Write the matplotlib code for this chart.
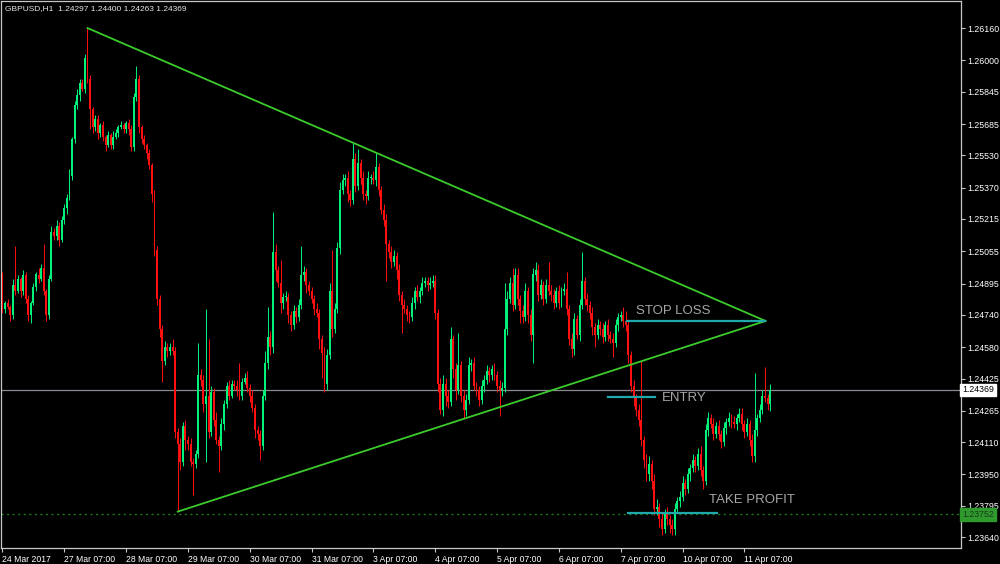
import numpy as np
import matplotlib
matplotlib.use("Agg")
import matplotlib.pyplot as plt

# GBPUSD H1, one close per hour (open = previous close)
open0 = 1.2493
closes = [
    # 24 Mar
    1.2477, 1.2480, 1.2478, 1.2474, 1.2489, 1.2486, 1.2492, 1.2486, 1.2494, 1.2482, 1.2474, 1.2480,
    1.2488, 1.2494, 1.2492, 1.2497, 1.2486, 1.2474, 1.2492, 1.2515, 1.2513, 1.2518, 1.2511, 1.2521,
    # 27 Mar
    1.2527, 1.2532, 1.2543, 1.2561, 1.2578, 1.2583, 1.2589, 1.2586, 1.2601, 1.2591, 1.2576, 1.2567,
    1.2571, 1.2564, 1.2568, 1.2562, 1.2558, 1.2563, 1.2558, 1.2562, 1.2564, 1.2567, 1.2568, 1.2566,
    # 28 Mar
    1.2569, 1.2566, 1.2557, 1.2582, 1.2591, 1.2567, 1.2561, 1.2558, 1.2554, 1.2548, 1.2534, 1.2506,
    1.2482, 1.2467, 1.2451, 1.2458, 1.2456, 1.2458, 1.2456, 1.2416, 1.2410, 1.2401, 1.2419, 1.2412,
    # 29 Mar
    1.2410, 1.2401, 1.2400, 1.2405, 1.2444, 1.2442, 1.2430, 1.2434, 1.2416, 1.2436, 1.2422, 1.2412,
    1.2409, 1.2420, 1.2430, 1.2439, 1.2434, 1.2440, 1.2439, 1.2437, 1.2434, 1.2441, 1.2443, 1.2438,
    # 30 Mar
    1.2434, 1.2428, 1.2417, 1.2415, 1.2409, 1.2434, 1.2450, 1.2463, 1.2458, 1.2505, 1.2496, 1.2490,
    1.2480, 1.2483, 1.2483, 1.2474, 1.2469, 1.2476, 1.2473, 1.2479, 1.2494, 1.2495, 1.2489, 1.2486,
    # 31 Mar
    1.2482, 1.2477, 1.2475, 1.2462, 1.2455, 1.2440, 1.2454, 1.2486, 1.2467, 1.2477, 1.2507, 1.2536,
    1.2541, 1.2542, 1.2534, 1.2531, 1.2551, 1.2538, 1.2549, 1.2542, 1.2534, 1.2533, 1.2542, 1.2542,
    # 3 Apr
    1.2541, 1.2547, 1.2536, 1.2526, 1.2521, 1.2509, 1.2505, 1.2500, 1.2503, 1.2496, 1.2484, 1.2479,
    1.2477, 1.2474, 1.2473, 1.2480, 1.2486, 1.2483, 1.2486, 1.2490, 1.2491, 1.2489, 1.2490, 1.2491,
    # 4 Apr
    1.2475, 1.2440, 1.2427, 1.2440, 1.2434, 1.2431, 1.2462, 1.2447, 1.2437, 1.2449, 1.2434, 1.2427,
    1.2432, 1.2449, 1.2450, 1.2439, 1.2437, 1.2432, 1.2439, 1.2442, 1.2446, 1.2444, 1.2447, 1.2444,
    # 5 Apr
    1.2439, 1.2437, 1.2438, 1.2467, 1.2482, 1.2490, 1.2479, 1.2494, 1.2482, 1.2476, 1.2473, 1.2486,
    1.2474, 1.2464, 1.2494, 1.2496, 1.2484, 1.2489, 1.2482, 1.2489, 1.2486, 1.2484, 1.2480, 1.2486,
    # 6 Apr
    1.2480, 1.2486, 1.2487, 1.2477, 1.2462, 1.2457, 1.2472, 1.2464, 1.2479, 1.2491, 1.2482, 1.2479,
    1.2475, 1.2468, 1.2464, 1.2469, 1.2467, 1.2463, 1.2469, 1.2464, 1.2462, 1.2460, 1.2469, 1.2473,
    # 7 Apr
    1.2474, 1.2471, 1.2469, 1.2454, 1.2439, 1.2433, 1.2427, 1.2422, 1.2412, 1.2402, 1.2395, 1.2400,
    1.2392, 1.2378, 1.2379, 1.2373, 1.2368, 1.2376, 1.2373, 1.2370, 1.2368, 1.2378, 1.2382, 1.2384,
    # 10 Apr
    1.2391, 1.2388, 1.2395, 1.2398, 1.2402, 1.2399, 1.2405, 1.2397, 1.2392, 1.2417, 1.2423, 1.2420,
    1.2415, 1.2419, 1.2415, 1.2411, 1.2418, 1.2421, 1.2423, 1.2421, 1.2420, 1.2423, 1.2425, 1.2420,
    # 11 Apr
    1.2416, 1.2420, 1.2412, 1.2404, 1.2417, 1.2423, 1.2427, 1.2434, 1.2433, 1.24297, 1.24369,
]

# wick lengths above / below the body, in pips
wick_up = [
    2, 1, 2, 1, 3, 19, 2, 1, 2, 1, 2, 1, 2, 1, 3, 2, 12, 1, 2, 3, 2, 3, 2, 2,
    2, 2, 3, 1, 2, 3, 2, 2, 2, 15, 2, 1, 2, 2, 1, 2, 1, 2, 1, 3, 2, 1, 2, 1,
    1, 2, 2, 2, 6, 2, 1, 2, 1, 2, 1, 2, 2, 2, 2, 3, 2, 2, 4, 2, 2, 3, 2, 3,
    2, 3, 2, 2, 16, 3, 2, 43, 28, 3, 2, 4, 2, 3, 2, 2, 3, 2, 2, 3, 13, 2, 2, 3,
    2, 3, 2, 2, 2, 3, 6, 15, 3, 20, 4, 2, 11, 2, 3, 2, 2, 3, 2, 3, 14, 3, 2, 2,
    2, 2, 3, 2, 2, 3, 3, 4, 20, 3, 3, 4, 3, 2, 3, 2, 8, 3, 7, 2, 3, 2, 3, 2,
    3, 7, 2, 2, 3, 3, 2, 3, 3, 2, 3, 2, 3, 2, 2, 3, 2, 3, 2, 3, 2, 2, 3, 3,
    3, 2, 3, 4, 3, 3, 6, 2, 3, 16, 2, 3, 3, 4, 2, 3, 2, 2, 3, 2, 3, 2, 2, 3,
    2, 3, 3, 23, 4, 3, 7, 3, 3, 2, 3, 4, 2, 3, 3, 4, 3, 3, 2, 3, 11, 3, 3, 2,
    3, 2, 3, 8, 2, 3, 3, 2, 3, 14, 2, 3, 2, 3, 2, 3, 2, 3, 2, 3, 2, 3, 3, 2,
    2, 4, 5, 3, 2, 3, 2, 3, 29, 2, 3, 4, 2, 3, 4, 2, 3, 2, 3, 2, 3, 3, 2, 3,
    3, 2, 3, 2, 3, 2, 3, 4, 2, 3, 3, 2, 3, 2, 3, 2, 3, 2, 3, 2, 3, 2, 3, 3,
    2, 3, 2, 3, 28, 2, 3, 3, 14, 2, 3.1,
]
wick_dn = [
    2, 2, 1, 3, 2, 2, 1, 3, 2, 2, 3, 4, 1, 2, 2, 1, 2, 3, 2, 1, 2, 2, 3, 1,
    2, 3, 1, 2, 2, 2, 3, 1, 2, 2, 10, 3, 2, 3, 2, 2, 3, 1, 2, 2, 1, 2, 1, 2,
    2, 3, 2, 2, 2, 3, 2, 2, 3, 2, 4, 3, 3, 4, 10, 2, 3, 2, 2, 3, 33, 4, 2, 5,
    3, 2, 15, 2, 2, 3, 4, 29, 3, 2, 3, 2, 13, 2, 3, 2, 2, 1, 2, 3, 2, 2, 1, 2,
    3, 2, 4, 3, 7, 2, 2, 3, 4, 3, 5, 2, 5, 3, 2, 4, 3, 2, 3, 2, 2, 3, 4, 2,
    2, 3, 2, 5, 12, 4, 3, 2, 4, 2, 2, 3, 2, 3, 4, 3, 2, 3, 2, 3, 3, 4, 2, 3,
    2, 3, 3, 2, 3, 18, 3, 3, 2, 4, 3, 14, 2, 3, 3, 2, 3, 2, 3, 2, 2, 3, 2, 2,
    3, 4, 2, 3, 5, 3, 2, 4, 5, 2, 3, 4, 3, 2, 3, 2, 3, 3, 2, 3, 2, 3, 2, 2,
    3, 13, 3, 2, 3, 2, 3, 2, 3, 6, 3, 2, 4, 3, 14, 3, 3, 2, 3, 2, 2, 3, 3, 2,
    3, 2, 2, 3, 3, 4, 3, 2, 3, 2, 3, 3, 3, 4, 6, 2, 3, 3, 2, 3, 2, 7, 2, 3,
    2, 3, 3, 4, 3, 4, 3, 3, 3, 4, 3, 3, 4, 3, 3, 4, 3, 2, 3, 4, 3, 3, 2, 3,
    2, 3, 2, 3, 2, 3, 2, 3, 4, 2, 3, 2, 3, 2, 3, 3, 2, 3, 2, 3, 2, 3, 2, 3,
    3, 2, 3, 3, 3, 3, 2, 2, 2, 3, 3.4,
]

day_labels = ["24 Mar 2017", "27 Mar 07:00", "28 Mar 07:00", "29 Mar 07:00", "30 Mar 07:00",
              "31 Mar 07:00", "3 Apr 07:00", "4 Apr 07:00", "5 Apr 07:00", "6 Apr 07:00",
              "7 Apr 07:00", "10 Apr 07:00", "11 Apr 07:00"]
price_ticks = [1.26160, 1.26000, 1.25845, 1.25685, 1.25530, 1.25370, 1.25215, 1.25055,
               1.24895, 1.24740, 1.24580, 1.24425, 1.24265, 1.24110, 1.23950, 1.23795, 1.23640]

# trend lines: (bar, price) end points
upper_line = [(33, 1.2616), (296.2, 1.2471)]
lower_line = [(68, 1.23766), (296.2, 1.2471)]
# trade levels: name, price, bar from, bar to, label bar, label price
levels = [
    ("STOP LOSS", 1.24711, 242.6, 296.2, 246.1, 1.24761),
    ("ENTRY", 1.24335, 235.2, 253.5, 255.8, 1.24330),
    ("TAKE PROFIT", 1.23761, 243.0, 277.2, 274.1, 1.23825),
]
tp_price = 1.23752

closes = np.array(closes)
opens = np.concatenate([[open0], closes[:-1]])
highs = np.maximum(opens, closes) + np.array(wick_up) / 1e4
lows = np.minimum(opens, closes) - np.array(wick_dn) / 1e4
n = len(closes)
idx = np.arange(n)
bull = closes >= opens

plt.rcParams["font.family"] = ["Liberation Sans", "DejaVu Sans"]
fig = plt.figure(figsize=(10, 5.64), dpi=100, facecolor="black")
ax = fig.add_axes([0.001, 1 - 548 / 564, 0.960, 547 / 564], facecolor="black")

up_col, dn_col = "#00F27A", "#FF1010"
cols = np.where(bull, up_col, dn_col)
ax.vlines(idx, lows, highs, colors=cols, linewidth=0.7, zorder=3)
body_h = np.maximum(np.abs(closes - opens), 0.00002)
ax.bar(idx, body_h, bottom=np.minimum(opens, closes), width=0.75,
       color=cols, linewidth=0, zorder=4)

# current price and take-profit reference lines
ax.axhline(closes[-1], color="#8A8A94", linewidth=0.9, zorder=2)
ax.axhline(tp_price, color="#1F7A1F", linewidth=1.0, linestyle=(0, (1.5, 2.5)), zorder=2)

for line in (upper_line, lower_line):
    (x0, y0), (x1, y1) = line
    ax.plot([x0, x1], [y0, y1], color="#3CCB2C", linewidth=1.3, zorder=5)

for name, price, xa, xb, tx, ty in levels:
    ax.plot([xa, xb], [price, price], color="#1FA9AC", linewidth=1.6, zorder=6)
    ax.text(tx, ty, name, color="#A6A6A6", fontsize=9.5, va="center", ha="left", zorder=7)

ax.set_xlim(-0.58, 372.1)
ax.set_ylim(1.23586, 1.26294)

ax.set_xticks(np.arange(len(day_labels)) * 24)
ax.set_xticklabels(day_labels)
for lab in ax.get_xticklabels():
    lab.set_horizontalalignment("left")
ax.tick_params(axis="x", colors="#C8C8C8", labelcolor="white", labelsize=6.2,
               length=3, width=0.8, pad=2, direction="out")

ax.yaxis.tick_right()
ax.set_yticks(price_ticks)
ax.set_yticklabels([f"{p:.5f}" for p in price_ticks])
ax.tick_params(axis="y", colors="#C8C8C8", labelcolor="white", labelsize=6.3,
               length=3, width=0.8, pad=1.5, direction="out")

for sp in ax.spines.values():
    sp.set_color("#C8C8C8")
    sp.set_linewidth(0.9)

# price labels on the axis
ax.text(1.0012, closes[-1], f"{closes[-1]:.5f}", transform=ax.get_yaxis_transform(),
        fontsize=6.3, color="black", va="center", ha="left",
        bbox=dict(boxstyle="square,pad=0.2", facecolor="white", edgecolor="white"))
ax.text(1.0012, tp_price, f"{tp_price:.5f}", transform=ax.get_yaxis_transform(),
        fontsize=6.3, color="#1A3A1A", va="center", ha="left",
        bbox=dict(boxstyle="square,pad=0.2", facecolor="#2E9A2E", edgecolor="#2E9A2E"))

title = f"GBPUSD,H1  {opens[-1]:.5f} {highs[-1]:.5f} {lows[-1]:.5f} {closes[-1]:.5f}"
ax.text(0.004, 0.986, title, transform=ax.transAxes, color="#E6E6E6", fontsize=6.0,
        va="center", ha="left")

fig.savefig("out.png", dpi=100, facecolor="black")
